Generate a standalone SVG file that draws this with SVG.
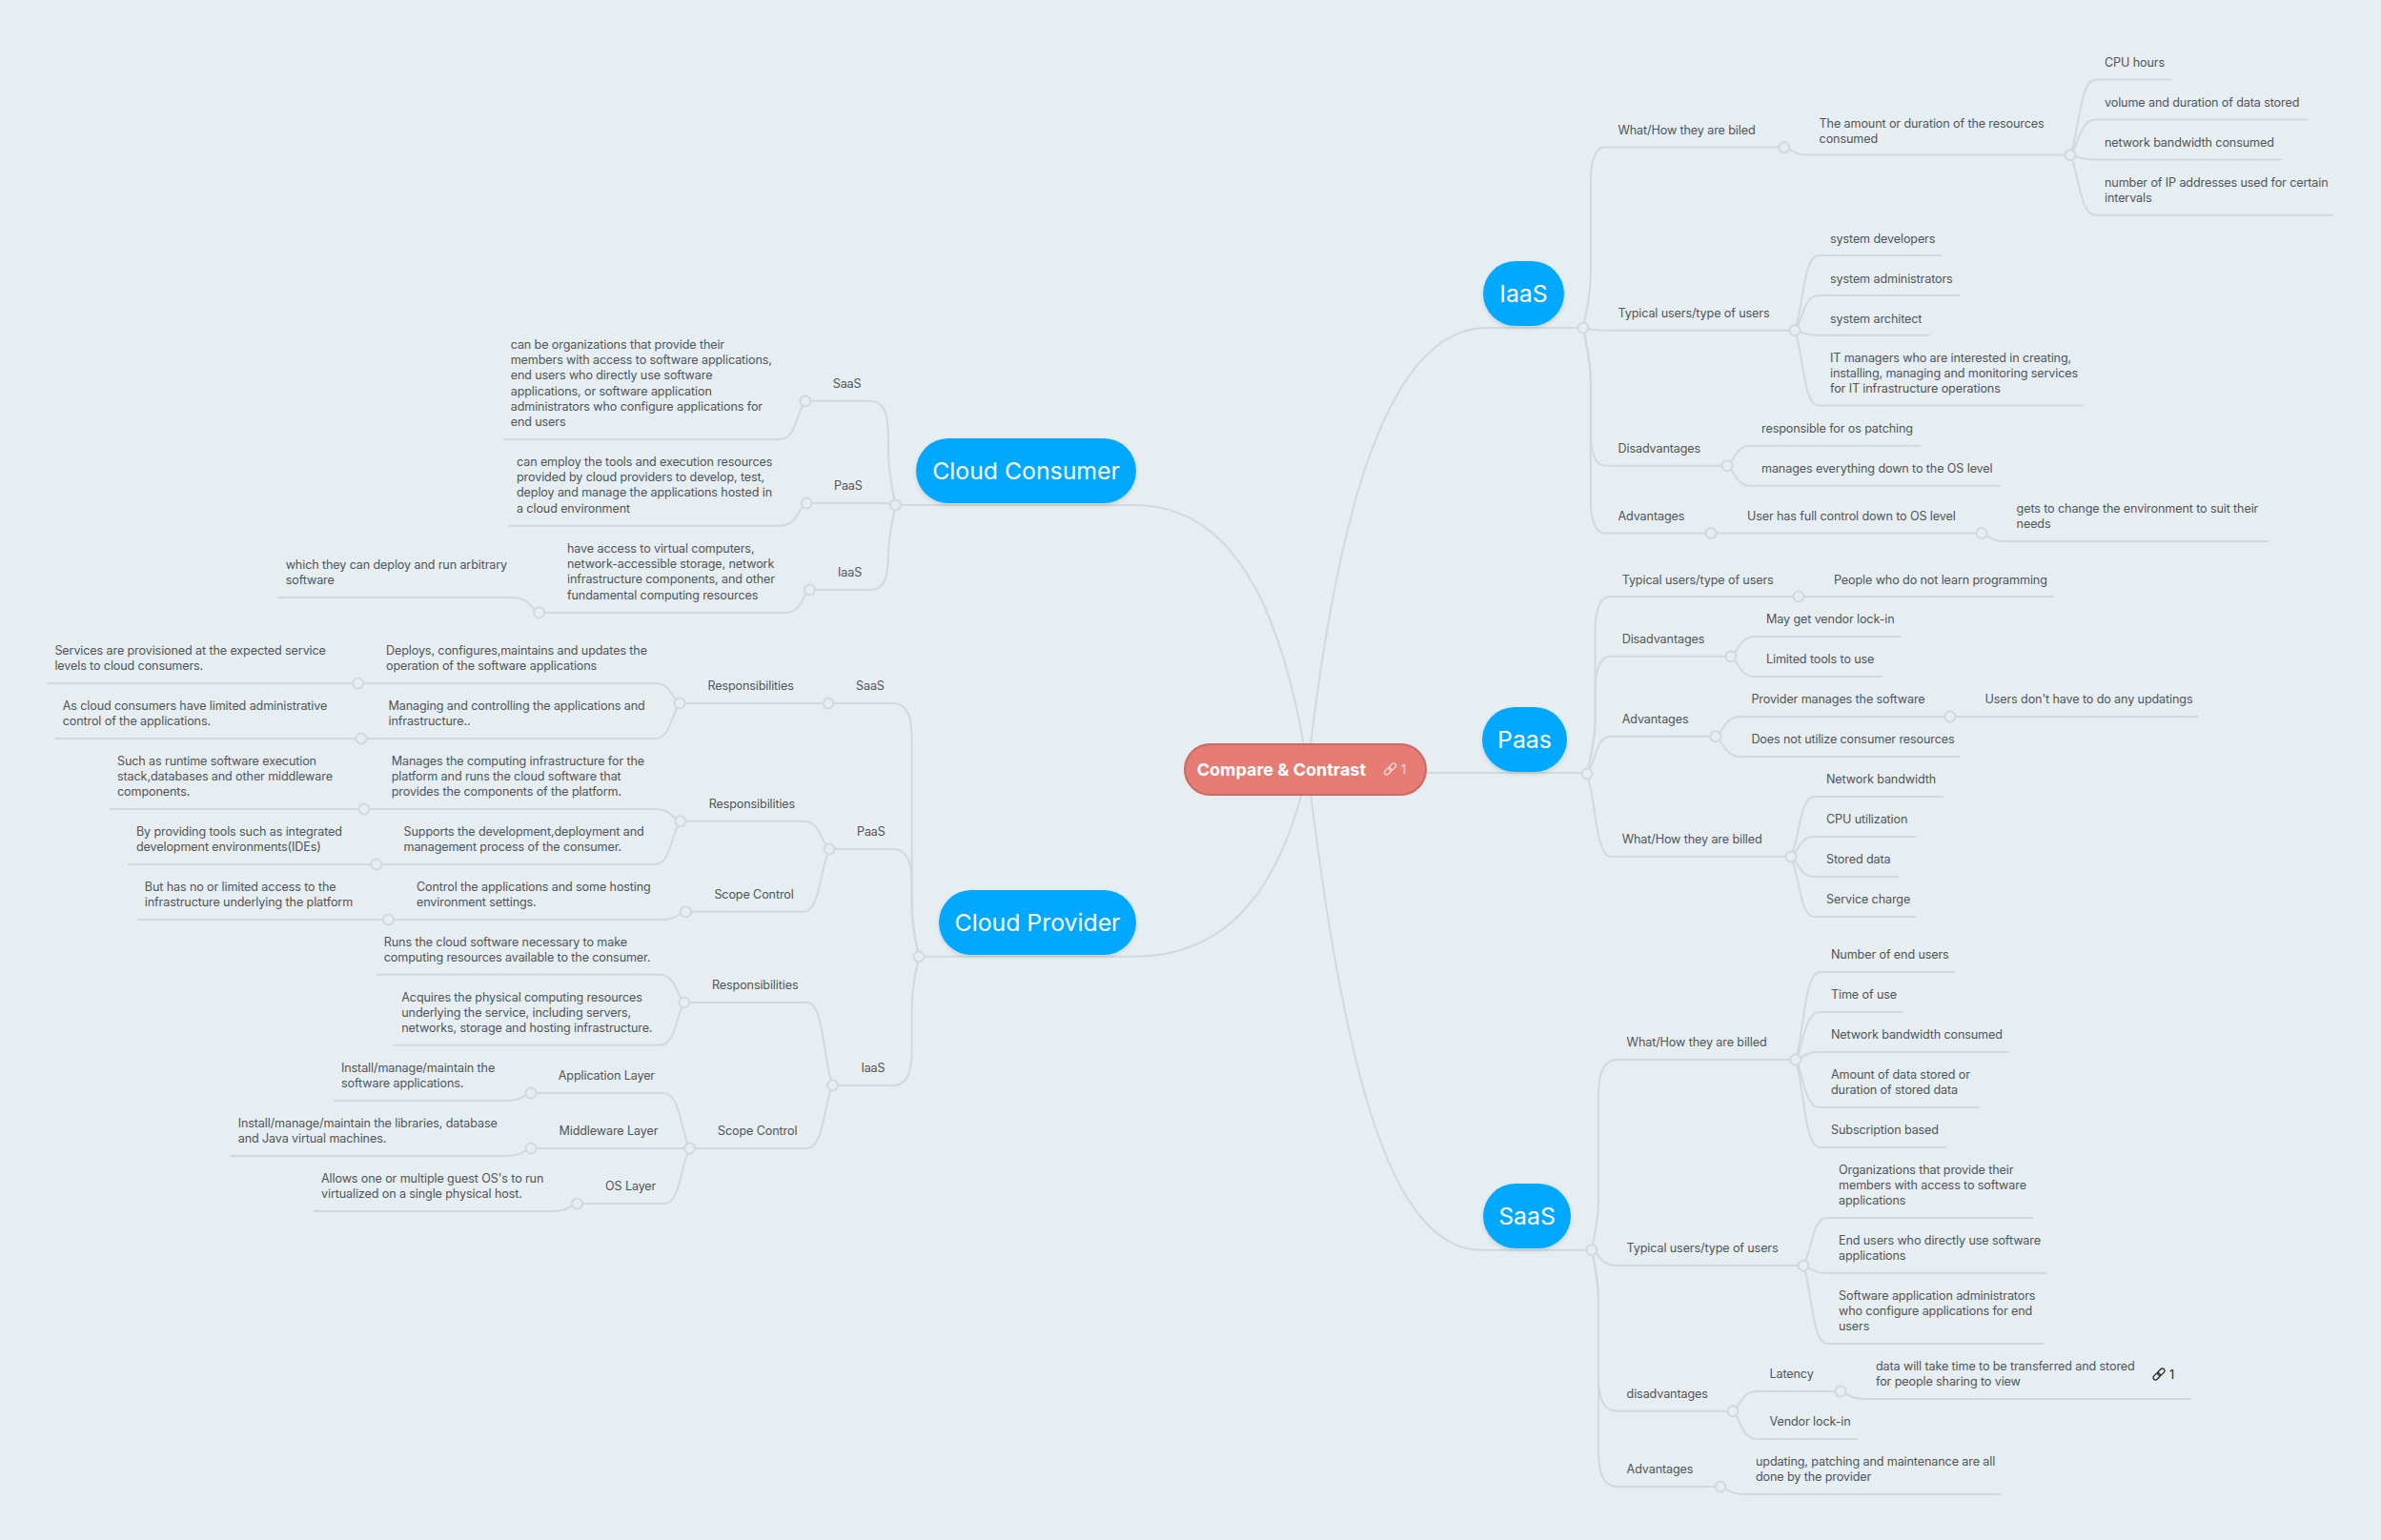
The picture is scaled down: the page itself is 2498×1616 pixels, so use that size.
<svg xmlns="http://www.w3.org/2000/svg" width="2498" height="1616" viewBox="0 0 2498 1616">
<style>
text{font-family:"Inter","Liberation Sans",sans-serif}
.t text{font-size:12.6px;letter-spacing:-.12px;fill:#505558}
.b rect{fill:#02a9ff;filter:url(#sh)}
.b text{font-size:24.8px;fill:#fff;text-anchor:middle}
#connectors path{fill:none;stroke:#d0d9dc;stroke-width:2}
#connectors circle{fill:#e6eef1;stroke:#d0d9dc;stroke-width:2}
</style>
<defs>
<filter id="sh" x="-20%" y="-20%" width="140%" height="150%"><feDropShadow dx="0" dy="2" stdDeviation="2" flood-color="#000" flood-opacity=".13"/></filter>
<g id="lnk" fill="none" stroke-width="1.3"><g transform="rotate(-45)"><rect x="-7.5" y="-2.4" width="8.4" height="4.8" rx="2.4"/><rect x="-.9" y="-2.4" width="8.4" height="4.8" rx="2.4"/></g></g>
</defs>
<rect width="2498" height="1616" fill="#e6eef1"/>
<g id="connectors">
<path d="M1372 807C1400 560 1450 344 1560 344H1661"/>
<path d="M1372 807C1345 630 1290 530 1190 530H939.4"/>
<path d="M1372 807C1345 930 1290 1003.7 1190 1003.7H964"/>
<path d="M1372 807C1410 1130 1460 1311.7 1555 1311.7H1670"/>
<path d="M1480 811H1665"/>
<path d="M1661 344C1665 324 1668.8 309 1668.8 289V193C1668.8 169 1673 154.6 1684 154.6H1872"/>
<path d="M1872 154.6C1881 157 1881 162.6 1898 162.6H2172"/>
<path d="M2172 162.6C2181.5 138.8 2181.5 83.4 2199 83.4H2278"/>
<path d="M2172 162.6C2181.5 151.5 2181.5 125.5 2199 125.5H2421"/>
<path d="M2172 162.6C2181.5 164 2181.5 167.6 2199 167.6H2394.6"/>
<path d="M2172 162.6C2181.5 181.6 2181.5 225.8 2199 225.8H2448"/>
<path d="M1661 344C1669 344.8 1669 346.7 1684 346.7H1883"/>
<path d="M1883 346.7C1892 323 1892 268 1908 268H2037"/>
<path d="M1883 346.7C1892 335.7 1892 310 1908 310H2056"/>
<path d="M1883 346.7C1892 348 1892 351.7 1908 351.7H2025"/>
<path d="M1883 346.7C1892 370.4 1892 425.6 1908 425.6H2185"/>
<path d="M1661 344C1665 364 1668.8 379 1668.8 399V451C1668.8 475 1673 488.7 1684 488.7H1812"/>
<path d="M1812 488.7C1821 482 1821 467.7 1837 467.7H2015.4"/>
<path d="M1812 488.7C1821 495 1821 509.8 1837 509.8H2099"/>
<path d="M1661 344C1665 364 1668.8 379 1668.8 399V522C1668.8 546 1673 559.5 1684 559.5H2079"/>
<path d="M2079 559.5C2088 562 2088 568 2105 568H2380.5"/>
<path d="M1665 812C1669 792 1673.5 777 1673.5 757V664C1673.5 640 1678 626 1690 626H2154.5"/>
<path d="M1665 812C1669 792 1673.5 777 1673.5 757V727C1673.5 703 1678 688.7 1690 688.7H1816"/>
<path d="M1816 688.7C1825 682.5 1825 668 1841.5 668H1994"/>
<path d="M1816 688.7C1825 695 1825 710 1841.5 710H1975"/>
<path d="M1665 812C1674 800 1674 772.7 1690 772.7H1800"/>
<path d="M1800 772.7C1809 766.5 1809 752 1826.7 752H2306"/>
<path d="M1800 772.7C1809 779 1809 794 1826.7 794H2056"/>
<path d="M1665 812C1674 838 1674 899 1690 899H1879"/>
<path d="M1879 899C1888 880 1888 836 1903.6 836H2039.4"/>
<path d="M1879 899C1888 892.7 1888 878 1903.6 878H2010"/>
<path d="M1879 899C1888 905 1888 920 1903.6 920H1992"/>
<path d="M1879 899C1888 918 1888 962 1903.6 962H2010"/>
<path d="M1670 1311.7C1674 1291 1677 1276 1677 1256V1150C1677 1126 1682 1112 1696.7 1112H1883.8"/>
<path d="M1883.8 1112C1892.8 1084 1892.8 1020 1909.4 1020H2051"/>
<path d="M1883.8 1112C1892.8 1097 1892.8 1062 1909.4 1062H1996"/>
<path d="M1883.8 1112C1892.8 1109.6 1892.8 1104 1909.4 1104H2108"/>
<path d="M1883.8 1112C1892.8 1127 1892.8 1162 1909.4 1162H2076"/>
<path d="M1883.8 1112C1892.8 1139.6 1892.8 1204 1909.4 1204H2041"/>
<path d="M1670 1311.7C1679 1316.6 1679 1328 1696.7 1328H1892"/>
<path d="M1892 1328C1901 1313 1901 1278 1917 1278H2133"/>
<path d="M1892 1328C1901 1330.4 1901 1336 1917 1336H2147"/>
<path d="M1892 1328C1901 1352.6 1901 1410 1917 1410H2144.5"/>
<path d="M1670 1311.7C1674 1332 1677 1347 1677 1367V1443C1677 1467 1682 1480.7 1696.7 1480.7H1818"/>
<path d="M1818 1480.7C1827 1474.5 1827 1460 1844 1460H1931"/>
<path d="M1818 1480.7C1827 1489.5 1827 1510 1844 1510H1949"/>
<path d="M1931 1460C1940 1462.4 1940 1468 1957.5 1468H2299"/>
<path d="M1670 1311.7C1674 1332 1677 1347 1677 1367V1522C1677 1546 1682 1560 1696.7 1560H1805"/>
<path d="M1805 1560C1814 1562.4 1814 1568 1831.6 1568H2099"/>
<path d="M939.4 530C936 510 932 495 932 475V459C932 435 928 420.7 913 420.7H845"/>
<path d="M845 420.7C835.4 432.8 835.4 461 817.6 461H527.4"/>
<path d="M939.4 530C934.7 529.4 934.7 528 926 528H846.3"/>
<path d="M846.3 528C836 535 836 551.7 817.6 551.7H533.8"/>
<path d="M939.4 530C936 550 932 565 932 581C932 605 928 619 913 619H849.5"/>
<path d="M849.5 619C840.6 626 840.6 643 824 643H565.7"/>
<path d="M565.7 643C555.7 638 555.7 627 537 627H291.5"/>
<path d="M964 1003.7C960 984 956.7 969 956.7 949V776C956.7 752 952 738 937 738H713"/>
<path d="M713 738C704 731.7 704 717 687 717H49"/>
<path d="M713 738C704 749 704 775 687 775H57.4"/>
<path d="M964 1003.7C960 984 956.7 969 956.7 949V929C956.7 905 952 891 937 891H870"/>
<path d="M870 891C860.5 882 860.5 861.7 843 861.7H713.7"/>
<path d="M870 891C860.5 910.7 860.5 956.7 843 956.7H719.4"/>
<path d="M713.7 861.7C704 858 704 849 687 849H114.8"/>
<path d="M713.7 861.7C704 875 704 907 687 907H134.6"/>
<path d="M719.4 956.7C710 959 710 965 693 965H143.5"/>
<path d="M964 1003.7C960 1024 956.7 1039 956.7 1059V1101C956.7 1125 952 1139 936.6 1139H873.5"/>
<path d="M873.5 1139C864 1113 864 1052 847 1052H718"/>
<path d="M873.5 1139C864 1159 864 1205 847 1205H723.6"/>
<path d="M718 1052C709 1043 709 1022.7 692 1022.7H394.5"/>
<path d="M718 1052C709 1065.4 709 1096.7 692 1096.7H412.4"/>
<path d="M723.6 1205C714 1187.6 714 1147 696 1147H557"/>
<path d="M557 1147C548 1149.4 548 1155 531.6 1155H350"/>
<path d="M723.6 1205H557"/>
<path d="M557 1205C548 1207.4 548 1213 531.6 1213H241.5"/>
<path d="M723.6 1205C714 1222.4 714 1263 697 1263H605.6"/>
<path d="M605.6 1263C596.5 1265.4 596.5 1271 579.5 1271H328.8"/>
<circle cx="1661" cy="344" r="5.5"/><circle cx="1872" cy="154.6" r="5.5"/><circle cx="2172" cy="162.6" r="5.5"/><circle cx="1883" cy="346.7" r="5.5"/><circle cx="1812" cy="488.7" r="5.5"/><circle cx="1795" cy="559.5" r="5.5"/><circle cx="2079" cy="559.5" r="5.5"/>
<circle cx="1665" cy="812" r="5.5"/><circle cx="1887" cy="626" r="5.5"/><circle cx="1816" cy="688.7" r="5.5"/><circle cx="1800" cy="772.7" r="5.5"/><circle cx="2046" cy="752" r="5.5"/><circle cx="1879" cy="899" r="5.5"/>
<circle cx="1670" cy="1311.7" r="5.5"/><circle cx="1883.8" cy="1112" r="5.5"/><circle cx="1892" cy="1328" r="5.5"/><circle cx="1818" cy="1480.7" r="5.5"/><circle cx="1931" cy="1460" r="5.5"/><circle cx="1805" cy="1560" r="5.5"/>
<circle cx="939.4" cy="530" r="5.5"/><circle cx="845" cy="420.7" r="5.5"/><circle cx="846.3" cy="528" r="5.5"/><circle cx="849.5" cy="619" r="5.5"/><circle cx="565.7" cy="643" r="5.5"/>
<circle cx="964" cy="1003.7" r="5.5"/><circle cx="869" cy="738" r="5.5"/><circle cx="713" cy="738" r="5.5"/><circle cx="375.7" cy="717" r="5.5"/><circle cx="379" cy="775" r="5.5"/>
<circle cx="870" cy="891" r="5.5"/><circle cx="713.7" cy="861.7" r="5.5"/><circle cx="719.4" cy="956.7" r="5.5"/><circle cx="382" cy="849" r="5.5"/><circle cx="394.8" cy="907" r="5.5"/><circle cx="407.5" cy="965" r="5.5"/>
<circle cx="873.5" cy="1139" r="5.5"/><circle cx="718" cy="1052" r="5.5"/><circle cx="723.6" cy="1205" r="5.5"/><circle cx="557" cy="1147" r="5.5"/><circle cx="557" cy="1205" r="5.5"/><circle cx="605.6" cy="1263" r="5.5"/>
</g>
<g id="root"><rect x="1243" y="781" width="253" height="53" rx="26.5" fill="#e67c73" stroke="#c96a64" stroke-width="2"/><text x="1255.7" y="813.5" font-size="18" font-weight="700" fill="#fff">Compare &amp; Contrast</text><use href="#lnk" x="1458.5" y="807" stroke="#fbe4e1"/><text x="1470" y="812" font-size="12.6" fill="#fbe4e1">1</text></g>
<g id="b-iaas" class="b"><rect x="1556" y="274" width="85" height="68" rx="34"/><text x="1598.5" y="317">IaaS</text></g>
<g id="b-paas" class="b"><rect x="1555" y="742" width="89" height="68" rx="34"/><text x="1599.5" y="785">Paas</text></g>
<g id="b-saas" class="b"><rect x="1556" y="1242" width="92" height="68" rx="34"/><text x="1602" y="1285">SaaS</text></g>
<g id="b-consumer" class="b"><rect x="961" y="460" width="231" height="68" rx="34"/><text x="1076.5" y="503">Cloud Consumer</text></g>
<g id="b-provider" class="b"><rect x="985" y="934" width="207" height="68" rx="34"/><text x="1088.5" y="977">Cloud Provider</text></g>
<g id="i1" class="t"><text x="1697.5" y="141">What/How they are biled</text></g>
<g id="i2" class="t"><text x="1908.6" y="133.5">The amount or duration of the resources<tspan x="1908.6" dy="16">consumed</tspan></text></g>
<g id="i3" class="t"><text x="2208" y="70">CPU hours</text></g>
<g id="i4" class="t"><text x="2208" y="112">volume and duration of data stored</text></g>
<g id="i5" class="t"><text x="2208" y="154">network bandwidth consumed</text></g>
<g id="i6" class="t"><text x="2208" y="196">number of IP addresses used for certain<tspan x="2208" dy="16">intervals</tspan></text></g>
<g id="i7" class="t"><text x="1697.5" y="333">Typical users/type of users</text></g>
<g id="i8" class="t"><text x="1920" y="254.5">system developers</text></g>
<g id="i9" class="t"><text x="1920" y="296.5">system administrators</text></g>
<g id="i10" class="t"><text x="1920" y="338.5">system architect</text></g>
<g id="i11" class="t"><text x="1920" y="380.3">IT managers who are interested in creating,<tspan x="1920" dy="16">installing, managing and monitoring services</tspan><tspan x="1920" dy="16">for IT infrastructure operations</tspan></text></g>
<g id="i12" class="t"><text x="1697.5" y="475">Disadvantages</text></g>
<g id="i13" class="t"><text x="1848" y="454">responsible for os patching</text></g>
<g id="i14" class="t"><text x="1848" y="496">manages everything down to the OS level</text></g>
<g id="i15" class="t"><text x="1697.5" y="546">Advantages</text></g>
<g id="i16" class="t"><text x="1833" y="546">User has full control down to OS level</text></g>
<g id="i17" class="t"><text x="2115.6" y="538">gets to change the environment to suit their<tspan x="2115.6" dy="16">needs</tspan></text></g>
<g id="p1" class="t"><text x="1701.7" y="612.5">Typical users/type of users</text></g>
<g id="p2" class="t"><text x="1924" y="612.5">People who do not learn programming</text></g>
<g id="p3" class="t"><text x="1701.7" y="675">Disadvantages</text></g>
<g id="p4" class="t"><text x="1853" y="654">May get vendor lock-in</text></g>
<g id="p5" class="t"><text x="1853" y="696">Limited tools to use</text></g>
<g id="p6" class="t"><text x="1701.7" y="759">Advantages</text></g>
<g id="p7" class="t"><text x="1837.4" y="738">Provider manages the software</text></g>
<g id="p8" class="t"><text x="2082.5" y="738">Users don't have to do any updatings</text></g>
<g id="p9" class="t"><text x="1837.4" y="780">Does not utilize consumer resources</text></g>
<g id="p10" class="t"><text x="1701.7" y="885">What/How they are billed</text></g>
<g id="p11" class="t"><text x="1916" y="822">Network bandwidth</text></g>
<g id="p12" class="t"><text x="1916" y="864">CPU utilization</text></g>
<g id="p13" class="t"><text x="1916" y="906">Stored data</text></g>
<g id="p14" class="t"><text x="1916" y="948">Service charge</text></g>
<g id="s1" class="t"><text x="1706.6" y="1098">What/How they are billed</text></g>
<g id="s2" class="t"><text x="1921" y="1006">Number of end users</text></g>
<g id="s3" class="t"><text x="1921" y="1048">Time of use</text></g>
<g id="s4" class="t"><text x="1921" y="1090">Network bandwidth consumed</text></g>
<g id="s5" class="t"><text x="1921" y="1132">Amount of data stored or<tspan x="1921" dy="16">duration of stored data</tspan></text></g>
<g id="s6" class="t"><text x="1921" y="1190">Subscription based</text></g>
<g id="s7" class="t"><text x="1706.6" y="1314">Typical users/type of users</text></g>
<g id="s8" class="t"><text x="1929" y="1232">Organizations that provide their<tspan x="1929" dy="16">members with access to software</tspan><tspan x="1929" dy="16">applications</tspan></text></g>
<g id="s9" class="t"><text x="1929" y="1306">End users who directly use software<tspan x="1929" dy="16">applications</tspan></text></g>
<g id="s10" class="t"><text x="1929" y="1364">Software application administrators<tspan x="1929" dy="16">who configure applications for end</tspan><tspan x="1929" dy="16">users</tspan></text></g>
<g id="s11" class="t"><text x="1706.6" y="1467">disadvantages</text></g>
<g id="s12" class="t"><text x="1856.5" y="1446">Latency</text></g>
<g id="s13" class="t"><text x="1968" y="1438">data will take time to be transferred and stored<tspan x="1968" dy="16">for people sharing to view</tspan></text><use href="#lnk" x="2265" y="1442" stroke="#222"/><text x="2276" y="1447" style="fill:#222">1</text></g>
<g id="s14" class="t"><text x="1856.5" y="1496">Vendor lock-in</text></g>
<g id="s15" class="t"><text x="1706.6" y="1546">Advantages</text></g>
<g id="s16" class="t"><text x="1842" y="1538">updating, patching and maintenance are all<tspan x="1842" dy="16">done by the provider</tspan></text></g>
<g id="c1" class="t"><text x="873.7" y="406.5">SaaS</text></g>
<g id="c2" class="t"><text x="535.7" y="366">can be organizations that provide their<tspan x="535.7" dy="16.2">members with access to software applications,</tspan><tspan x="535.7" dy="16.2">end users who directly use software</tspan><tspan x="535.7" dy="16.2">applications, or software application</tspan><tspan x="535.7" dy="16.2">administrators who configure applications for</tspan><tspan x="535.7" dy="16.2">end users</tspan></text></g>
<g id="c3" class="t"><text x="875" y="513.5">PaaS</text></g>
<g id="c4" class="t"><text x="542" y="489">can employ the tools and execution resources<tspan x="542" dy="16.2">provided by cloud providers to develop, test,</tspan><tspan x="542" dy="16.2">deploy and manage the applications hosted in</tspan><tspan x="542" dy="16.2">a cloud environment</tspan></text></g>
<g id="c5" class="t"><text x="879" y="604.5">IaaS</text></g>
<g id="c6" class="t"><text x="595" y="580">have access to virtual computers,<tspan x="595" dy="16.2">network-accessible storage, network</tspan><tspan x="595" dy="16.2">infrastructure components, and other</tspan><tspan x="595" dy="16.2">fundamental computing resources</tspan></text></g>
<g id="c7" class="t"><text x="299.7" y="597">which they can deploy and run arbitrary<tspan x="299.7" dy="16">software</tspan></text></g>
<g id="v1" class="t"><text x="898" y="723.5">SaaS</text></g>
<g id="v2" class="t"><text x="742.4" y="723.5">Responsibilities</text></g>
<g id="v3" class="t"><text x="405" y="687">Deploys, configures,maintains and updates the<tspan x="405" dy="16">operation of the software applications</tspan></text></g>
<g id="v4" class="t"><text x="57.4" y="687">Services are provisioned at the expected service<tspan x="57.4" dy="16">levels to cloud consumers.</tspan></text></g>
<g id="v5" class="t"><text x="407.5" y="745">Managing and controlling the applications and<tspan x="407.5" dy="16">infrastructure..</tspan></text></g>
<g id="v6" class="t"><text x="65.7" y="745">As cloud consumers have limited administrative<tspan x="65.7" dy="16">control of the applications.</tspan></text></g>
<g id="v7" class="t"><text x="899" y="876.5">PaaS</text></g>
<g id="v8" class="t"><text x="743.7" y="847.5">Responsibilities</text></g>
<g id="v9" class="t"><text x="410.7" y="803">Manages the computing infrastructure for the<tspan x="410.7" dy="16">platform and runs the cloud software that</tspan><tspan x="410.7" dy="16">provides the components of the platform.</tspan></text></g>
<g id="v10" class="t"><text x="123" y="803">Such as runtime software execution<tspan x="123" dy="16">stack,databases and other middleware</tspan><tspan x="123" dy="16">components.</tspan></text></g>
<g id="v11" class="t"><text x="423.5" y="877">Supports the development,deployment and<tspan x="423.5" dy="16">management process of the consumer.</tspan></text></g>
<g id="v12" class="t"><text x="143" y="877">By providing tools such as integrated<tspan x="143" dy="16">development environments(IDEs)</tspan></text></g>
<g id="v13" class="t"><text x="749.4" y="942.5">Scope Control</text></g>
<g id="v14" class="t"><text x="437" y="935">Control the applications and some hosting<tspan x="437" dy="16">environment settings.</tspan></text></g>
<g id="v15" class="t"><text x="151.8" y="935">But has no or limited access to the<tspan x="151.8" dy="16">infrastructure underlying the platform</tspan></text></g>
<g id="v16" class="t"><text x="903.4" y="1125">IaaS</text></g>
<g id="v17" class="t"><text x="747" y="1038">Responsibilities</text></g>
<g id="v18" class="t"><text x="402.8" y="993">Runs the cloud software necessary to make<tspan x="402.8" dy="16">computing resources available to the consumer.</tspan></text></g>
<g id="v19" class="t"><text x="421.3" y="1051">Acquires the physical computing resources<tspan x="421.3" dy="16">underlying the service, including servers,</tspan><tspan x="421.3" dy="16">networks, storage and hosting infrastructure.</tspan></text></g>
<g id="v20" class="t"><text x="753" y="1191">Scope Control</text></g>
<g id="v21" class="t"><text x="585.8" y="1133">Application Layer</text></g>
<g id="v22" class="t"><text x="358" y="1125">Install/manage/maintain the<tspan x="358" dy="16">software applications.</tspan></text></g>
<g id="v23" class="t"><text x="586.5" y="1191">Middleware Layer</text></g>
<g id="v24" class="t"><text x="249.7" y="1183">Install/manage/maintain the libraries, database<tspan x="249.7" dy="16">and Java virtual machines.</tspan></text></g>
<g id="v25" class="t"><text x="635" y="1249">OS Layer</text></g>
<g id="v26" class="t"><text x="337" y="1241">Allows one or multiple guest OS's to run<tspan x="337" dy="16">virtualized on a single physical host.</tspan></text></g>
</svg>
